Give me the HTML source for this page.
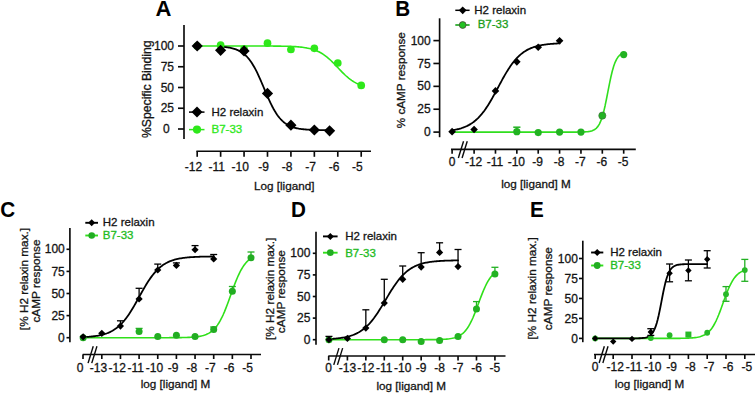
<!DOCTYPE html>
<html><head><meta charset="utf-8"><style>
html,body{margin:0;padding:0;background:#fff;width:756px;height:394px;overflow:hidden}
svg{display:block}
text{font-family:"Liberation Sans", sans-serif}
</style></head><body>
<svg width="756" height="394" viewBox="0 0 756 394">
<rect width="756" height="394" fill="#fff"/>
<text transform="translate(155.6 16.3) scale(0.98 1)" x="0" y="0" font-size="22.5" font-weight="bold" fill="#000">A</text>
<line x1="184" y1="25" x2="184" y2="139" stroke="#0a0a0a" stroke-width="1.65"/>
<line x1="178" y1="46" x2="184" y2="46" stroke="#0a0a0a" stroke-width="1.65"/>
<text x="174" y="50.1" font-size="12" text-anchor="end" fill="#141414" font-weight="normal" stroke="#141414" stroke-width="0.3">100</text>
<line x1="178" y1="66.75" x2="184" y2="66.75" stroke="#0a0a0a" stroke-width="1.65"/>
<text x="174" y="70.85" font-size="12" text-anchor="end" fill="#141414" font-weight="normal" stroke="#141414" stroke-width="0.3">75</text>
<line x1="178" y1="87.5" x2="184" y2="87.5" stroke="#0a0a0a" stroke-width="1.65"/>
<text x="174" y="91.6" font-size="12" text-anchor="end" fill="#141414" font-weight="normal" stroke="#141414" stroke-width="0.3">50</text>
<line x1="178" y1="108.25" x2="184" y2="108.25" stroke="#0a0a0a" stroke-width="1.65"/>
<text x="174" y="112.35" font-size="12" text-anchor="end" fill="#141414" font-weight="normal" stroke="#141414" stroke-width="0.3">25</text>
<line x1="178" y1="129" x2="184" y2="129" stroke="#0a0a0a" stroke-width="1.65"/>
<text x="166.3" y="133.1" font-size="12" text-anchor="middle" fill="#141414" font-weight="normal" stroke="#141414" stroke-width="0.3">0</text>
<text x="150.8" y="89.2" font-size="12.2" text-anchor="middle" fill="#141414" font-weight="normal" stroke="#141414" stroke-width="0.3" transform="rotate(-90 150.8 89.2)">%Specific Binding</text>
<line x1="196.4" y1="151.2" x2="371" y2="151.2" stroke="#0a0a0a" stroke-width="1.65"/>
<line x1="197.2" y1="151.2" x2="197.2" y2="156.8" stroke="#0a0a0a" stroke-width="1.65"/>
<text x="193.4" y="171" font-size="12" text-anchor="middle" fill="#141414" font-weight="normal" stroke="#141414" stroke-width="0.3">-12</text>
<line x1="220.63" y1="151.2" x2="220.63" y2="156.8" stroke="#0a0a0a" stroke-width="1.65"/>
<text x="216.83" y="171" font-size="12" text-anchor="middle" fill="#141414" font-weight="normal" stroke="#141414" stroke-width="0.3">-11</text>
<line x1="244.06" y1="151.2" x2="244.06" y2="156.8" stroke="#0a0a0a" stroke-width="1.65"/>
<text x="240.26" y="171" font-size="12" text-anchor="middle" fill="#141414" font-weight="normal" stroke="#141414" stroke-width="0.3">-10</text>
<line x1="267.49" y1="151.2" x2="267.49" y2="156.8" stroke="#0a0a0a" stroke-width="1.65"/>
<text x="263.69" y="171" font-size="12" text-anchor="middle" fill="#141414" font-weight="normal" stroke="#141414" stroke-width="0.3">-9</text>
<line x1="290.92" y1="151.2" x2="290.92" y2="156.8" stroke="#0a0a0a" stroke-width="1.65"/>
<text x="287.12" y="171" font-size="12" text-anchor="middle" fill="#141414" font-weight="normal" stroke="#141414" stroke-width="0.3">-8</text>
<line x1="314.35" y1="151.2" x2="314.35" y2="156.8" stroke="#0a0a0a" stroke-width="1.65"/>
<text x="310.55" y="171" font-size="12" text-anchor="middle" fill="#141414" font-weight="normal" stroke="#141414" stroke-width="0.3">-7</text>
<line x1="337.78" y1="151.2" x2="337.78" y2="156.8" stroke="#0a0a0a" stroke-width="1.65"/>
<text x="333.98" y="171" font-size="12" text-anchor="middle" fill="#141414" font-weight="normal" stroke="#141414" stroke-width="0.3">-6</text>
<line x1="361.21" y1="151.2" x2="361.21" y2="156.8" stroke="#0a0a0a" stroke-width="1.65"/>
<text x="357.41" y="171" font-size="12" text-anchor="middle" fill="#141414" font-weight="normal" stroke="#141414" stroke-width="0.3">-5</text>
<text x="284.2" y="189.7" font-size="11.7" text-anchor="middle" fill="#141414" font-weight="normal" stroke="#141414" stroke-width="0.3">Log [ligand]</text>
<path d="M197.2 46 L198.57 46 L199.93 46 L201.3 46 L202.67 46 L204.03 46 L205.4 46 L206.77 46 L208.13 46 L209.5 46 L210.87 46 L212.23 46 L213.6 46 L214.97 46 L216.33 46 L217.7 46 L219.07 46 L220.43 46 L221.8 46 L223.17 46 L224.53 46 L225.9 46 L227.27 46 L228.64 46 L230 46 L231.37 46 L232.74 46 L234.1 46 L235.47 46 L236.84 46 L238.2 46 L239.57 46 L240.94 46 L242.3 46 L243.67 46 L245.04 46 L246.4 46.01 L247.77 46.01 L249.14 46.01 L250.5 46.01 L251.87 46.01 L253.24 46.01 L254.6 46.01 L255.97 46.01 L257.34 46.02 L258.7 46.02 L260.07 46.02 L261.44 46.02 L262.8 46.03 L264.17 46.03 L265.54 46.04 L266.9 46.04 L268.27 46.05 L269.64 46.05 L271 46.06 L272.37 46.07 L273.74 46.08 L275.1 46.09 L276.47 46.1 L277.84 46.12 L279.2 46.14 L280.57 46.16 L281.94 46.18 L283.31 46.2 L284.67 46.23 L286.04 46.27 L287.41 46.3 L288.77 46.35 L290.14 46.4 L291.51 46.45 L292.87 46.52 L294.24 46.59 L295.61 46.67 L296.97 46.77 L298.34 46.88 L299.71 47 L301.07 47.14 L302.44 47.3 L303.81 47.48 L305.17 47.68 L306.54 47.91 L307.91 48.18 L309.27 48.47 L310.64 48.8 L312.01 49.18 L313.37 49.59 L314.74 50.06 L316.11 50.58 L317.47 51.16 L318.84 51.81 L320.21 52.52 L321.57 53.29 L322.94 54.15 L324.31 55.07 L325.67 56.07 L327.04 57.14 L328.41 58.29 L329.77 59.5 L331.14 60.78 L332.51 62.11 L333.88 63.49 L335.24 64.9 L336.61 66.34 L337.98 67.79 L339.34 69.23 L340.71 70.66 L342.08 72.07 L343.44 73.43 L344.81 74.75 L346.18 76.01 L347.54 77.2 L348.91 78.33 L350.28 79.38 L351.64 80.36 L353.01 81.27 L354.38 82.09 L355.74 82.85 L357.11 83.54 L358.48 84.17 L359.84 84.73 L361.21 85.24" fill="none" stroke="#2ee81a" stroke-width="1.6" stroke-linejoin="round" stroke-linecap="round"/>
<path d="M220.63 46.62 L221.54 46.69 L222.45 46.76 L223.35 46.85 L224.26 46.94 L225.17 47.04 L226.08 47.15 L226.99 47.27 L227.89 47.4 L228.8 47.55 L229.71 47.72 L230.62 47.9 L231.52 48.1 L232.43 48.32 L233.34 48.56 L234.25 48.83 L235.16 49.12 L236.06 49.45 L236.97 49.8 L237.88 50.19 L238.79 50.62 L239.7 51.09 L240.6 51.6 L241.51 52.17 L242.42 52.78 L243.33 53.45 L244.24 54.17 L245.14 54.96 L246.05 55.82 L246.96 56.74 L247.87 57.74 L248.78 58.82 L249.68 59.97 L250.59 61.21 L251.5 62.53 L252.41 63.94 L253.31 65.43 L254.22 67 L255.13 68.66 L256.04 70.4 L256.95 72.22 L257.85 74.11 L258.76 76.06 L259.67 78.07 L260.58 80.13 L261.49 82.24 L262.39 84.37 L263.3 86.52 L264.21 88.68 L265.12 90.84 L266.03 92.98 L266.93 95.1 L267.84 97.18 L268.75 99.22 L269.66 101.2 L270.57 103.12 L271.47 104.97 L272.38 106.75 L273.29 108.45 L274.2 110.06 L275.1 111.6 L276.01 113.04 L276.92 114.41 L277.83 115.68 L278.74 116.88 L279.64 117.99 L280.55 119.03 L281.46 119.99 L282.37 120.88 L283.28 121.7 L284.18 122.46 L285.09 123.15 L286 123.79 L286.91 124.38 L287.82 124.91 L288.72 125.4 L289.63 125.85 L290.54 126.26 L291.45 126.63 L292.36 126.97 L293.26 127.28 L294.17 127.56 L295.08 127.81 L295.99 128.04 L296.89 128.25 L297.8 128.44 L298.71 128.62 L299.62 128.77 L300.53 128.91 L301.43 129.04 L302.34 129.16 L303.25 129.26 L304.16 129.36 L305.07 129.44 L305.97 129.52 L306.88 129.59 L307.79 129.65 L308.7 129.71 L309.61 129.76 L310.51 129.81 L311.42 129.85 L312.33 129.89 L313.24 129.92 L314.14 129.96 L315.05 129.98 L315.96 130.01 L316.87 130.03 L317.78 130.05 L318.68 130.07 L319.59 130.09 L320.5 130.1 L321.41 130.12 L322.32 130.13 L323.22 130.14 L324.13 130.15 L325.04 130.16 L325.95 130.17 L326.86 130.18 L327.76 130.18 L328.67 130.19 L329.58 130.19" fill="none" stroke="#000" stroke-width="1.8" stroke-linejoin="round" stroke-linecap="round"/>
<circle cx="197.2" cy="46" r="3.85" fill="#2ee81a"/>
<circle cx="220.63" cy="45.17" r="3.85" fill="#2ee81a"/>
<circle cx="244.06" cy="48.99" r="3.85" fill="#2ee81a"/>
<circle cx="267.49" cy="43.18" r="3.85" fill="#2ee81a"/>
<circle cx="290.92" cy="49.49" r="3.85" fill="#2ee81a"/>
<circle cx="314.35" cy="48.32" r="3.85" fill="#2ee81a"/>
<circle cx="337.78" cy="63.02" r="3.85" fill="#2ee81a"/>
<circle cx="361.21" cy="85.43" r="3.85" fill="#2ee81a"/>
<path d="M197.2 40.4L202.8 46L197.2 51.6L191.6 46Z" fill="#000"/>
<path d="M220.63 44.72L226.23 50.32L220.63 55.92L215.03 50.32Z" fill="#000"/>
<path d="M244.06 45.3L249.66 50.9L244.06 56.5L238.46 50.9Z" fill="#000"/>
<path d="M267.49 87.79L273.09 93.39L267.49 98.99L261.89 93.39Z" fill="#000"/>
<path d="M290.92 119.58L296.52 125.18L290.92 130.78L285.32 125.18Z" fill="#000"/>
<path d="M314.35 124.4L319.95 130L314.35 135.6L308.75 130Z" fill="#000"/>
<path d="M329.58 125.23L335.18 130.83L329.58 136.43L323.98 130.83Z" fill="#000"/>
<line x1="189" y1="112.1" x2="204.5" y2="112.1" stroke="#000" stroke-width="1.5"/>
<path d="M197 106.6L202.5 112.1L197 117.6L191.5 112.1Z" fill="#000"/>
<text x="211.5" y="116.3" font-size="11.5" text-anchor="start" fill="#141414" font-weight="normal" stroke="#141414" stroke-width="0.3">H2 relaxin</text>
<line x1="189" y1="129.6" x2="204.5" y2="129.6" stroke="#2ee81a" stroke-width="1.5"/>
<circle cx="197" cy="129.6" r="4.1" fill="#2ee81a"/>
<text x="211.5" y="133.4" font-size="11.5" text-anchor="start" fill="#2ee81a" font-weight="normal" stroke="#2ee81a" stroke-width="0.3">B7-33</text>
<text transform="translate(395.3 16.4) scale(0.92 1)" x="0" y="0" font-size="22.5" font-weight="bold" fill="#000">B</text>
<line x1="439.6" y1="18.3" x2="439.6" y2="137.2" stroke="#0a0a0a" stroke-width="1.65"/>
<line x1="433.4" y1="40.6" x2="439.6" y2="40.6" stroke="#0a0a0a" stroke-width="1.65"/>
<text x="430.7" y="44.7" font-size="12" text-anchor="end" fill="#141414" font-weight="normal" stroke="#141414" stroke-width="0.3">100</text>
<line x1="433.4" y1="63.47" x2="439.6" y2="63.47" stroke="#0a0a0a" stroke-width="1.65"/>
<text x="430.7" y="67.57" font-size="12" text-anchor="end" fill="#141414" font-weight="normal" stroke="#141414" stroke-width="0.3">75</text>
<line x1="433.4" y1="86.35" x2="439.6" y2="86.35" stroke="#0a0a0a" stroke-width="1.65"/>
<text x="430.7" y="90.45" font-size="12" text-anchor="end" fill="#141414" font-weight="normal" stroke="#141414" stroke-width="0.3">50</text>
<line x1="433.4" y1="109.22" x2="439.6" y2="109.22" stroke="#0a0a0a" stroke-width="1.65"/>
<text x="430.7" y="113.32" font-size="12" text-anchor="end" fill="#141414" font-weight="normal" stroke="#141414" stroke-width="0.3">25</text>
<line x1="433.4" y1="132.1" x2="439.6" y2="132.1" stroke="#0a0a0a" stroke-width="1.65"/>
<text x="430.7" y="136.2" font-size="12" text-anchor="end" fill="#141414" font-weight="normal" stroke="#141414" stroke-width="0.3">0</text>
<text x="405.5" y="80.2" font-size="11.7" text-anchor="middle" fill="#141414" font-weight="normal" stroke="#141414" stroke-width="0.3" transform="rotate(-90 405.5 80.2)">% cAMP response</text>
<line x1="451" y1="149.3" x2="635.8" y2="149.3" stroke="#0a0a0a" stroke-width="1.65"/>
<line x1="452.1" y1="149.3" x2="452.1" y2="153.7" stroke="#0a0a0a" stroke-width="1.65"/>
<text x="452.1" y="165.8" font-size="12" text-anchor="middle" fill="#141414" font-weight="normal" stroke="#141414" stroke-width="0.3">0</text>
<line x1="474.1" y1="149.3" x2="474.1" y2="153.7" stroke="#0a0a0a" stroke-width="1.65"/>
<text x="473.6" y="165.8" font-size="12" text-anchor="middle" fill="#141414" font-weight="normal" stroke="#141414" stroke-width="0.3">-12</text>
<line x1="495.47" y1="149.3" x2="495.47" y2="153.7" stroke="#0a0a0a" stroke-width="1.65"/>
<text x="494.97" y="165.8" font-size="12" text-anchor="middle" fill="#141414" font-weight="normal" stroke="#141414" stroke-width="0.3">-11</text>
<line x1="516.84" y1="149.3" x2="516.84" y2="153.7" stroke="#0a0a0a" stroke-width="1.65"/>
<text x="516.34" y="165.8" font-size="12" text-anchor="middle" fill="#141414" font-weight="normal" stroke="#141414" stroke-width="0.3">-10</text>
<line x1="538.21" y1="149.3" x2="538.21" y2="153.7" stroke="#0a0a0a" stroke-width="1.65"/>
<text x="537.71" y="165.8" font-size="12" text-anchor="middle" fill="#141414" font-weight="normal" stroke="#141414" stroke-width="0.3">-9</text>
<line x1="559.58" y1="149.3" x2="559.58" y2="153.7" stroke="#0a0a0a" stroke-width="1.65"/>
<text x="559.08" y="165.8" font-size="12" text-anchor="middle" fill="#141414" font-weight="normal" stroke="#141414" stroke-width="0.3">-8</text>
<line x1="580.95" y1="149.3" x2="580.95" y2="153.7" stroke="#0a0a0a" stroke-width="1.65"/>
<text x="580.45" y="165.8" font-size="12" text-anchor="middle" fill="#141414" font-weight="normal" stroke="#141414" stroke-width="0.3">-7</text>
<line x1="602.32" y1="149.3" x2="602.32" y2="153.7" stroke="#0a0a0a" stroke-width="1.65"/>
<text x="601.82" y="165.8" font-size="12" text-anchor="middle" fill="#141414" font-weight="normal" stroke="#141414" stroke-width="0.3">-6</text>
<line x1="623.69" y1="149.3" x2="623.69" y2="153.7" stroke="#0a0a0a" stroke-width="1.65"/>
<text x="623.19" y="165.8" font-size="12" text-anchor="middle" fill="#141414" font-weight="normal" stroke="#141414" stroke-width="0.3">-5</text>
<line x1="458.35" y1="158" x2="463.55" y2="141.2" stroke="#0a0a0a" stroke-width="1.4"/>
<line x1="462.05" y1="158" x2="467.25" y2="141.2" stroke="#0a0a0a" stroke-width="1.4"/>
<text x="535.9" y="187.6" font-size="11.7" text-anchor="middle" fill="#141414" font-weight="normal" stroke="#141414" stroke-width="0.3">log [ligand] M</text>
<path d="M452.09 132.1 L453.52 132.1 L454.95 132.1 L456.38 132.1 L457.81 132.1 L459.24 132.1 L460.67 132.1 L462.1 132.1 L463.53 132.1 L464.96 132.1 L466.39 132.1 L467.82 132.1 L469.25 132.1 L470.68 132.1 L472.11 132.1 L473.54 132.1 L474.97 132.1 L476.4 132.1 L477.83 132.1 L479.26 132.1 L480.69 132.1 L482.12 132.1 L483.55 132.1 L484.98 132.1 L486.41 132.1 L487.84 132.1 L489.27 132.1 L490.7 132.1 L492.13 132.1 L493.56 132.1 L494.99 132.1 L496.42 132.1 L497.85 132.1 L499.28 132.1 L500.71 132.1 L502.14 132.1 L503.57 132.1 L505 132.1 L506.43 132.1 L507.86 132.1 L509.29 132.1 L510.72 132.1 L512.15 132.1 L513.58 132.1 L515.01 132.1 L516.44 132.1 L517.87 132.1 L519.3 132.1 L520.73 132.1 L522.16 132.1 L523.59 132.1 L525.02 132.1 L526.45 132.1 L527.88 132.1 L529.31 132.1 L530.74 132.1 L532.17 132.1 L533.6 132.1 L535.03 132.1 L536.46 132.1 L537.89 132.1 L539.32 132.1 L540.75 132.1 L542.18 132.1 L543.61 132.1 L545.04 132.1 L546.47 132.1 L547.9 132.1 L549.33 132.1 L550.76 132.1 L552.19 132.1 L553.62 132.1 L555.05 132.1 L556.48 132.1 L557.91 132.1 L559.34 132.1 L560.77 132.1 L562.2 132.1 L563.63 132.1 L565.06 132.1 L566.49 132.1 L567.92 132.1 L569.35 132.1 L570.78 132.09 L572.21 132.09 L573.64 132.09 L575.07 132.08 L576.5 132.08 L577.93 132.07 L579.36 132.05 L580.79 132.03 L582.22 131.99 L583.65 131.95 L585.08 131.88 L586.51 131.78 L587.94 131.64 L589.37 131.43 L590.8 131.14 L592.23 130.72 L593.66 130.11 L595.09 129.25 L596.52 128.04 L597.95 126.36 L599.38 124.05 L600.81 120.94 L602.24 116.89 L603.67 111.81 L605.1 105.7 L606.53 98.78 L607.96 91.4 L609.39 84.06 L610.82 77.22 L612.25 71.22 L613.68 66.26 L615.11 62.33 L616.54 59.32 L617.97 57.09 L619.4 55.47 L620.83 54.31 L622.26 53.49 L623.69 52.91" fill="none" stroke="#30de1e" stroke-width="1.6" stroke-linejoin="round" stroke-linecap="round"/>
<path d="M452.09 130.26 L452.98 130.12 L453.88 129.97 L454.78 129.81 L455.67 129.63 L456.57 129.45 L457.46 129.25 L458.36 129.03 L459.25 128.8 L460.15 128.55 L461.05 128.29 L461.94 128 L462.84 127.7 L463.73 127.37 L464.63 127.02 L465.53 126.65 L466.42 126.25 L467.32 125.83 L468.21 125.37 L469.11 124.89 L470 124.37 L470.9 123.83 L471.8 123.24 L472.69 122.62 L473.59 121.97 L474.48 121.27 L475.38 120.53 L476.27 119.75 L477.17 118.93 L478.07 118.06 L478.96 117.15 L479.86 116.19 L480.75 115.18 L481.65 114.13 L482.54 113.02 L483.44 111.87 L484.34 110.67 L485.23 109.42 L486.13 108.12 L487.02 106.78 L487.92 105.39 L488.82 103.96 L489.71 102.49 L490.61 100.98 L491.5 99.44 L492.4 97.87 L493.29 96.26 L494.19 94.64 L495.09 92.99 L495.98 91.33 L496.88 89.66 L497.77 87.98 L498.67 86.31 L499.56 84.63 L500.46 82.96 L501.36 81.31 L502.25 79.67 L503.15 78.05 L504.04 76.46 L504.94 74.9 L505.83 73.38 L506.73 71.88 L507.63 70.43 L508.52 69.02 L509.42 67.65 L510.31 66.32 L511.21 65.05 L512.1 63.82 L513 62.63 L513.9 61.5 L514.79 60.42 L515.69 59.38 L516.58 58.39 L517.48 57.45 L518.38 56.56 L519.27 55.71 L520.17 54.9 L521.06 54.14 L521.96 53.42 L522.85 52.74 L523.75 52.1 L524.65 51.5 L525.54 50.93 L526.44 50.4 L527.33 49.89 L528.23 49.42 L529.12 48.98 L530.02 48.57 L530.92 48.18 L531.81 47.82 L532.71 47.48 L533.6 47.16 L534.5 46.87 L535.39 46.59 L536.29 46.33 L537.19 46.09 L538.08 45.87 L538.98 45.66 L539.87 45.46 L540.77 45.28 L541.66 45.11 L542.56 44.95 L543.46 44.81 L544.35 44.67 L545.25 44.54 L546.14 44.43 L547.04 44.32 L547.94 44.21 L548.83 44.12 L549.73 44.03 L550.62 43.95 L551.52 43.87 L552.41 43.8 L553.31 43.74 L554.21 43.68 L555.1 43.62 L556 43.57 L556.89 43.52 L557.79 43.47 L558.68 43.43 L559.58 43.39" fill="none" stroke="#000" stroke-width="1.8" stroke-linejoin="round" stroke-linecap="round"/>
<circle cx="516.84" cy="131.64" r="3.6" fill="#22b222"/>
<circle cx="538.21" cy="132.56" r="3.6" fill="#22b222"/>
<circle cx="559.58" cy="132.1" r="3.6" fill="#22b222"/>
<circle cx="580.95" cy="132.1" r="3.6" fill="#22b222"/>
<circle cx="602.32" cy="115.63" r="3.6" fill="#22b222" stroke="#3d6a3a" stroke-width="0.6"/>
<circle cx="623.69" cy="54.6" r="3.6" fill="#22b222"/>
<line x1="516.84" y1="127.2" x2="516.84" y2="129.5" stroke="#22b222" stroke-width="1.4"/>
<line x1="513.24" y1="127.2" x2="520.44" y2="127.2" stroke="#22b222" stroke-width="1.5"/>
<path d="M452.09 127.84L455.89 131.64L452.09 135.44L448.29 131.64Z" fill="#000"/>
<path d="M474.1 125.74L477.9 129.54L474.1 133.34L470.3 129.54Z" fill="#000"/>
<path d="M495.47 87.12L499.27 90.92L495.47 94.72L491.67 90.92Z" fill="#000"/>
<path d="M516.84 58.03L520.64 61.83L516.84 65.63L513.04 61.83Z" fill="#000"/>
<path d="M538.21 43.48L542.01 47.28L538.21 51.08L534.41 47.28Z" fill="#000"/>
<path d="M559.58 36.89L563.38 40.69L559.58 44.49L555.78 40.69Z" fill="#000"/>
<line x1="455.3" y1="10.3" x2="469.6" y2="10.3" stroke="#000" stroke-width="1.5"/>
<path d="M462.7 6.4L466.6 10.3L462.7 14.2L458.8 10.3Z" fill="#000"/>
<text x="474.3" y="14.3" font-size="11.5" text-anchor="start" fill="#141414" font-weight="normal" stroke="#141414" stroke-width="0.3">H2 relaxin</text>
<line x1="455.3" y1="25" x2="469.6" y2="25" stroke="#22a822" stroke-width="1.7"/>
<circle cx="462.7" cy="25" r="3.4" fill="#22c222" stroke="#4a4a3a" stroke-width="0.8"/>
<text x="477.7" y="28.1" font-size="11.5" text-anchor="start" fill="#1a9e1a" font-weight="normal" stroke="#1a9e1a" stroke-width="0.3">B7-33</text>
<text transform="translate(0.3 216.7) scale(0.92 1)" x="0" y="0" font-size="22.5" font-weight="bold" fill="#000">C</text>
<line x1="69.9" y1="228" x2="69.9" y2="342.2" stroke="#0a0a0a" stroke-width="1.65"/>
<line x1="66.5" y1="249.3" x2="69.9" y2="249.3" stroke="#0a0a0a" stroke-width="1.65"/>
<text x="64.8" y="253.4" font-size="12" text-anchor="end" fill="#141414" font-weight="normal" stroke="#141414" stroke-width="0.3">100</text>
<line x1="66.5" y1="271.4" x2="69.9" y2="271.4" stroke="#0a0a0a" stroke-width="1.65"/>
<text x="64.8" y="275.5" font-size="12" text-anchor="end" fill="#141414" font-weight="normal" stroke="#141414" stroke-width="0.3">75</text>
<line x1="66.5" y1="293.5" x2="69.9" y2="293.5" stroke="#0a0a0a" stroke-width="1.65"/>
<text x="64.8" y="297.6" font-size="12" text-anchor="end" fill="#141414" font-weight="normal" stroke="#141414" stroke-width="0.3">50</text>
<line x1="66.5" y1="315.6" x2="69.9" y2="315.6" stroke="#0a0a0a" stroke-width="1.65"/>
<text x="64.8" y="319.7" font-size="12" text-anchor="end" fill="#141414" font-weight="normal" stroke="#141414" stroke-width="0.3">25</text>
<line x1="66.5" y1="337.7" x2="69.9" y2="337.7" stroke="#0a0a0a" stroke-width="1.65"/>
<text x="64.8" y="341.8" font-size="12" text-anchor="end" fill="#141414" font-weight="normal" stroke="#141414" stroke-width="0.3">0</text>
<text x="28" y="279" font-size="11.8" text-anchor="middle" fill="#141414" font-weight="normal" stroke="#141414" stroke-width="0.3" transform="rotate(-90 28 279)">[% H2 relaxin max.]</text>
<text x="40" y="281" font-size="11.8" text-anchor="middle" fill="#141414" font-weight="normal" stroke="#141414" stroke-width="0.3" transform="rotate(-90 40 281)">cAMP response</text>
<line x1="82.7" y1="354.5" x2="261" y2="354.5" stroke="#0a0a0a" stroke-width="1.65"/>
<line x1="83" y1="354.5" x2="83" y2="359" stroke="#0a0a0a" stroke-width="1.65"/>
<text x="80" y="371.8" font-size="12" text-anchor="middle" fill="#141414" font-weight="normal" stroke="#141414" stroke-width="0.3">0</text>
<line x1="101.8" y1="354.5" x2="101.8" y2="359" stroke="#0a0a0a" stroke-width="1.65"/>
<text x="98.5" y="372.1" font-size="12" text-anchor="middle" fill="#141414" font-weight="normal" stroke="#141414" stroke-width="0.3">-13</text>
<line x1="120.45" y1="354.5" x2="120.45" y2="359" stroke="#0a0a0a" stroke-width="1.65"/>
<text x="117.15" y="372.1" font-size="12" text-anchor="middle" fill="#141414" font-weight="normal" stroke="#141414" stroke-width="0.3">-12</text>
<line x1="139.1" y1="354.5" x2="139.1" y2="359" stroke="#0a0a0a" stroke-width="1.65"/>
<text x="135.8" y="372.1" font-size="12" text-anchor="middle" fill="#141414" font-weight="normal" stroke="#141414" stroke-width="0.3">-11</text>
<line x1="157.75" y1="354.5" x2="157.75" y2="359" stroke="#0a0a0a" stroke-width="1.65"/>
<text x="154.45" y="372.1" font-size="12" text-anchor="middle" fill="#141414" font-weight="normal" stroke="#141414" stroke-width="0.3">-10</text>
<line x1="176.4" y1="354.5" x2="176.4" y2="359" stroke="#0a0a0a" stroke-width="1.65"/>
<text x="173.1" y="372.1" font-size="12" text-anchor="middle" fill="#141414" font-weight="normal" stroke="#141414" stroke-width="0.3">-9</text>
<line x1="195.05" y1="354.5" x2="195.05" y2="359" stroke="#0a0a0a" stroke-width="1.65"/>
<text x="191.75" y="372.1" font-size="12" text-anchor="middle" fill="#141414" font-weight="normal" stroke="#141414" stroke-width="0.3">-8</text>
<line x1="213.7" y1="354.5" x2="213.7" y2="359" stroke="#0a0a0a" stroke-width="1.65"/>
<text x="210.4" y="372.1" font-size="12" text-anchor="middle" fill="#141414" font-weight="normal" stroke="#141414" stroke-width="0.3">-7</text>
<line x1="232.35" y1="354.5" x2="232.35" y2="359" stroke="#0a0a0a" stroke-width="1.65"/>
<text x="229.05" y="372.1" font-size="12" text-anchor="middle" fill="#141414" font-weight="normal" stroke="#141414" stroke-width="0.3">-6</text>
<line x1="251" y1="354.5" x2="251" y2="359" stroke="#0a0a0a" stroke-width="1.65"/>
<text x="247.7" y="372.1" font-size="12" text-anchor="middle" fill="#141414" font-weight="normal" stroke="#141414" stroke-width="0.3">-5</text>
<line x1="88.05" y1="363.1" x2="93.25" y2="346.3" stroke="#0a0a0a" stroke-width="1.4"/>
<line x1="91.75" y1="363.1" x2="96.95" y2="346.3" stroke="#0a0a0a" stroke-width="1.4"/>
<text x="175.5" y="388.1" font-size="11.7" text-anchor="middle" fill="#141414" font-weight="normal" stroke="#141414" stroke-width="0.3">log [ligand] M</text>
<path d="M83.15 337.7 L84.55 337.7 L85.95 337.7 L87.35 337.7 L88.75 337.7 L90.14 337.7 L91.54 337.7 L92.94 337.7 L94.34 337.7 L95.74 337.7 L97.14 337.7 L98.54 337.7 L99.94 337.7 L101.33 337.7 L102.73 337.7 L104.13 337.7 L105.53 337.7 L106.93 337.7 L108.33 337.7 L109.73 337.7 L111.12 337.7 L112.52 337.7 L113.92 337.7 L115.32 337.7 L116.72 337.7 L118.12 337.7 L119.52 337.7 L120.92 337.7 L122.31 337.7 L123.71 337.7 L125.11 337.7 L126.51 337.7 L127.91 337.7 L129.31 337.7 L130.71 337.7 L132.11 337.7 L133.5 337.7 L134.9 337.7 L136.3 337.7 L137.7 337.7 L139.1 337.7 L140.5 337.7 L141.9 337.7 L143.3 337.7 L144.69 337.7 L146.09 337.7 L147.49 337.7 L148.89 337.7 L150.29 337.7 L151.69 337.7 L153.09 337.7 L154.49 337.7 L155.88 337.7 L157.28 337.69 L158.68 337.69 L160.08 337.69 L161.48 337.69 L162.88 337.69 L164.28 337.69 L165.68 337.68 L167.07 337.68 L168.47 337.68 L169.87 337.67 L171.27 337.67 L172.67 337.66 L174.07 337.65 L175.47 337.64 L176.87 337.63 L178.26 337.62 L179.66 337.6 L181.06 337.58 L182.46 337.55 L183.86 337.53 L185.26 337.49 L186.66 337.45 L188.06 337.4 L189.45 337.34 L190.85 337.26 L192.25 337.17 L193.65 337.07 L195.05 336.94 L196.45 336.79 L197.85 336.6 L199.25 336.38 L200.64 336.12 L202.04 335.81 L203.44 335.44 L204.84 334.99 L206.24 334.46 L207.64 333.84 L209.04 333.09 L210.44 332.22 L211.83 331.19 L213.23 329.99 L214.63 328.6 L216.03 326.98 L217.43 325.13 L218.83 323.02 L220.23 320.64 L221.63 317.98 L223.02 315.05 L224.42 311.85 L225.82 308.41 L227.22 304.77 L228.62 300.98 L230.02 297.1 L231.42 293.18 L232.82 289.3 L234.21 285.51 L235.61 281.89 L237.01 278.47 L238.41 275.29 L239.81 272.37 L241.21 269.73 L242.61 267.37 L244.01 265.28 L245.4 263.44 L246.8 261.84 L248.2 260.46 L249.6 259.27 L251 258.25" fill="none" stroke="#30e01a" stroke-width="1.6" stroke-linejoin="round" stroke-linecap="round"/>
<path d="M83.15 337.14 L84.24 337.08 L85.33 337.02 L86.41 336.95 L87.5 336.88 L88.59 336.8 L89.68 336.71 L90.77 336.61 L91.85 336.5 L92.94 336.38 L94.03 336.25 L95.12 336.1 L96.2 335.94 L97.29 335.77 L98.38 335.58 L99.47 335.37 L100.56 335.14 L101.64 334.89 L102.73 334.61 L103.82 334.31 L104.91 333.99 L106 333.63 L107.08 333.24 L108.17 332.81 L109.26 332.35 L110.35 331.84 L111.44 331.29 L112.52 330.7 L113.61 330.06 L114.7 329.36 L115.79 328.61 L116.88 327.8 L117.96 326.92 L119.05 325.99 L120.14 324.98 L121.23 323.91 L122.31 322.77 L123.4 321.55 L124.49 320.26 L125.58 318.9 L126.67 317.47 L127.75 315.96 L128.84 314.39 L129.93 312.75 L131.02 311.05 L132.11 309.28 L133.19 307.47 L134.28 305.61 L135.37 303.72 L136.46 301.79 L137.55 299.84 L138.63 297.88 L139.72 295.91 L140.81 293.95 L141.9 292.01 L142.99 290.08 L144.07 288.19 L145.16 286.34 L146.25 284.53 L147.34 282.78 L148.43 281.09 L149.51 279.45 L150.6 277.89 L151.69 276.39 L152.78 274.97 L153.86 273.62 L154.95 272.34 L156.04 271.14 L157.13 270 L158.22 268.94 L159.3 267.95 L160.39 267.02 L161.48 266.16 L162.57 265.35 L163.66 264.61 L164.74 263.92 L165.83 263.28 L166.92 262.7 L168.01 262.16 L169.1 261.66 L170.18 261.2 L171.27 260.78 L172.36 260.39 L173.45 260.04 L174.53 259.71 L175.62 259.42 L176.71 259.15 L177.8 258.9 L178.89 258.67 L179.97 258.47 L181.06 258.28 L182.15 258.11 L183.24 257.95 L184.33 257.81 L185.41 257.68 L186.5 257.56 L187.59 257.45 L188.68 257.35 L189.77 257.26 L190.85 257.18 L191.94 257.11 L193.03 257.04 L194.12 256.98 L195.21 256.92 L196.29 256.87 L197.38 256.83 L198.47 256.79 L199.56 256.75 L200.64 256.71 L201.73 256.68 L202.82 256.65 L203.91 256.63 L205 256.6 L206.08 256.58 L207.17 256.56 L208.26 256.55 L209.35 256.53 L210.44 256.52 L211.52 256.5 L212.61 256.49 L213.7 256.48" fill="none" stroke="#000" stroke-width="1.8" stroke-linejoin="round" stroke-linecap="round"/>
<line x1="139.1" y1="331.42" x2="139.1" y2="328.4" stroke="#22b222" stroke-width="1.3"/>
<line x1="135.6" y1="328.4" x2="142.6" y2="328.4" stroke="#22b222" stroke-width="1.3"/>
<line x1="213.7" y1="329.39" x2="213.7" y2="327" stroke="#22b222" stroke-width="1.3"/>
<line x1="210.2" y1="327" x2="217.2" y2="327" stroke="#22b222" stroke-width="1.3"/>
<line x1="232.35" y1="291.29" x2="232.35" y2="286.5" stroke="#22b222" stroke-width="1.3"/>
<line x1="228.85" y1="286.5" x2="235.85" y2="286.5" stroke="#22b222" stroke-width="1.3"/>
<line x1="251" y1="257.79" x2="251" y2="252" stroke="#22b222" stroke-width="1.3"/>
<line x1="247.5" y1="252" x2="254.5" y2="252" stroke="#22b222" stroke-width="1.3"/>
<circle cx="83.15" cy="337.7" r="3.5" fill="#22ad22"/>
<circle cx="139.1" cy="331.42" r="3.5" fill="#22ad22"/>
<circle cx="157.75" cy="336.46" r="3.5" fill="#22ad22"/>
<circle cx="176.4" cy="335.31" r="3.5" fill="#22ad22"/>
<circle cx="195.05" cy="336.46" r="3.5" fill="#22ad22"/>
<circle cx="213.7" cy="329.39" r="3.5" fill="#22ad22"/>
<circle cx="232.35" cy="291.29" r="3.5" fill="#22ad22"/>
<circle cx="251" cy="257.79" r="3.5" fill="#22ad22"/>
<line x1="120.45" y1="326.03" x2="120.45" y2="320.8" stroke="#000" stroke-width="1.3"/>
<line x1="116.95" y1="320.8" x2="123.95" y2="320.8" stroke="#000" stroke-width="1.3"/>
<line x1="139.1" y1="298.89" x2="139.1" y2="288.3" stroke="#000" stroke-width="1.3"/>
<line x1="135.6" y1="288.3" x2="142.6" y2="288.3" stroke="#000" stroke-width="1.3"/>
<line x1="157.75" y1="269.99" x2="157.75" y2="264.1" stroke="#000" stroke-width="1.3"/>
<line x1="154.25" y1="264.1" x2="161.25" y2="264.1" stroke="#000" stroke-width="1.3"/>
<line x1="176.4" y1="265.39" x2="176.4" y2="262.9" stroke="#000" stroke-width="1.3"/>
<line x1="172.9" y1="262.9" x2="179.9" y2="262.9" stroke="#000" stroke-width="1.3"/>
<line x1="195.05" y1="249.74" x2="195.05" y2="245.6" stroke="#000" stroke-width="1.3"/>
<line x1="191.55" y1="245.6" x2="198.55" y2="245.6" stroke="#000" stroke-width="1.3"/>
<line x1="213.7" y1="259.02" x2="213.7" y2="254.5" stroke="#000" stroke-width="1.3"/>
<line x1="210.2" y1="254.5" x2="217.2" y2="254.5" stroke="#000" stroke-width="1.3"/>
<path d="M83.15 333.22L86.75 336.82L83.15 340.42L79.55 336.82Z" fill="#000"/>
<path d="M101.8 329.68L105.4 333.28L101.8 336.88L98.2 333.28Z" fill="#000"/>
<path d="M120.45 322.43L124.05 326.03L120.45 329.63L116.85 326.03Z" fill="#000"/>
<path d="M139.1 295.29L142.7 298.89L139.1 302.49L135.5 298.89Z" fill="#000"/>
<path d="M157.75 266.39L161.35 269.99L157.75 273.59L154.15 269.99Z" fill="#000"/>
<path d="M176.4 261.79L180 265.39L176.4 268.99L172.8 265.39Z" fill="#000"/>
<path d="M195.05 246.14L198.65 249.74L195.05 253.34L191.45 249.74Z" fill="#000"/>
<path d="M213.7 255.42L217.3 259.02L213.7 262.62L210.1 259.02Z" fill="#000"/>
<line x1="85.3" y1="222.8" x2="98" y2="222.8" stroke="#000" stroke-width="1.9"/>
<path d="M91.7 219.3L95.2 222.8L91.7 226.3L88.2 222.8Z" fill="#000"/>
<text x="102.8" y="225.9" font-size="11.5" text-anchor="start" fill="#141414" font-weight="normal" stroke="#141414" stroke-width="0.3">H2 relaxin</text>
<line x1="85.3" y1="235.5" x2="98" y2="235.5" stroke="#30e01a" stroke-width="1.9"/>
<circle cx="91.7" cy="235.5" r="3.3" fill="#22ad22"/>
<text x="102.8" y="239.3" font-size="11.5" text-anchor="start" fill="#22bb22" font-weight="normal" stroke="#22bb22" stroke-width="0.3">B7-33</text>
<text transform="translate(291.1 216.7) scale(0.92 1)" x="0" y="0" font-size="22.5" font-weight="bold" fill="#000">D</text>
<line x1="316" y1="231.8" x2="316" y2="344.8" stroke="#0a0a0a" stroke-width="1.65"/>
<line x1="312.8" y1="253.3" x2="316" y2="253.3" stroke="#0a0a0a" stroke-width="1.65"/>
<text x="310.4" y="257.4" font-size="12" text-anchor="end" fill="#141414" font-weight="normal" stroke="#141414" stroke-width="0.3">100</text>
<line x1="312.8" y1="274.9" x2="316" y2="274.9" stroke="#0a0a0a" stroke-width="1.65"/>
<text x="310.4" y="279" font-size="12" text-anchor="end" fill="#141414" font-weight="normal" stroke="#141414" stroke-width="0.3">75</text>
<line x1="312.8" y1="296.5" x2="316" y2="296.5" stroke="#0a0a0a" stroke-width="1.65"/>
<text x="310.4" y="300.6" font-size="12" text-anchor="end" fill="#141414" font-weight="normal" stroke="#141414" stroke-width="0.3">50</text>
<line x1="312.8" y1="318.1" x2="316" y2="318.1" stroke="#0a0a0a" stroke-width="1.65"/>
<text x="310.4" y="322.2" font-size="12" text-anchor="end" fill="#141414" font-weight="normal" stroke="#141414" stroke-width="0.3">25</text>
<line x1="312.8" y1="339.7" x2="316" y2="339.7" stroke="#0a0a0a" stroke-width="1.65"/>
<text x="310.4" y="343.8" font-size="12" text-anchor="end" fill="#141414" font-weight="normal" stroke="#141414" stroke-width="0.3">0</text>
<text x="273.7" y="288.8" font-size="11.8" text-anchor="middle" fill="#141414" font-weight="normal" stroke="#141414" stroke-width="0.3" transform="rotate(-90 273.7 288.8)">[% H2 relaxin max.]</text>
<text x="285.3" y="291.6" font-size="11.8" text-anchor="middle" fill="#141414" font-weight="normal" stroke="#141414" stroke-width="0.3" transform="rotate(-90 285.3 291.6)">cAMP response</text>
<line x1="328.3" y1="356" x2="505.5" y2="356" stroke="#0a0a0a" stroke-width="1.65"/>
<line x1="328.7" y1="356" x2="328.7" y2="360.5" stroke="#0a0a0a" stroke-width="1.65"/>
<text x="328.7" y="372.3" font-size="12" text-anchor="middle" fill="#141414" font-weight="normal" stroke="#141414" stroke-width="0.3">0</text>
<line x1="347.4" y1="356" x2="347.4" y2="360.5" stroke="#0a0a0a" stroke-width="1.65"/>
<text x="347.4" y="372.3" font-size="12" text-anchor="middle" fill="#141414" font-weight="normal" stroke="#141414" stroke-width="0.3">-13</text>
<line x1="365.84" y1="356" x2="365.84" y2="360.5" stroke="#0a0a0a" stroke-width="1.65"/>
<text x="365.84" y="372.3" font-size="12" text-anchor="middle" fill="#141414" font-weight="normal" stroke="#141414" stroke-width="0.3">-12</text>
<line x1="384.28" y1="356" x2="384.28" y2="360.5" stroke="#0a0a0a" stroke-width="1.65"/>
<text x="384.28" y="372.3" font-size="12" text-anchor="middle" fill="#141414" font-weight="normal" stroke="#141414" stroke-width="0.3">-11</text>
<line x1="402.72" y1="356" x2="402.72" y2="360.5" stroke="#0a0a0a" stroke-width="1.65"/>
<text x="402.72" y="372.3" font-size="12" text-anchor="middle" fill="#141414" font-weight="normal" stroke="#141414" stroke-width="0.3">-10</text>
<line x1="421.16" y1="356" x2="421.16" y2="360.5" stroke="#0a0a0a" stroke-width="1.65"/>
<text x="421.16" y="372.3" font-size="12" text-anchor="middle" fill="#141414" font-weight="normal" stroke="#141414" stroke-width="0.3">-9</text>
<line x1="439.6" y1="356" x2="439.6" y2="360.5" stroke="#0a0a0a" stroke-width="1.65"/>
<text x="439.6" y="372.3" font-size="12" text-anchor="middle" fill="#141414" font-weight="normal" stroke="#141414" stroke-width="0.3">-8</text>
<line x1="458.04" y1="356" x2="458.04" y2="360.5" stroke="#0a0a0a" stroke-width="1.65"/>
<text x="458.04" y="372.3" font-size="12" text-anchor="middle" fill="#141414" font-weight="normal" stroke="#141414" stroke-width="0.3">-7</text>
<line x1="476.48" y1="356" x2="476.48" y2="360.5" stroke="#0a0a0a" stroke-width="1.65"/>
<text x="476.48" y="372.3" font-size="12" text-anchor="middle" fill="#141414" font-weight="normal" stroke="#141414" stroke-width="0.3">-6</text>
<line x1="494.92" y1="356" x2="494.92" y2="360.5" stroke="#0a0a0a" stroke-width="1.65"/>
<text x="494.92" y="372.3" font-size="12" text-anchor="middle" fill="#141414" font-weight="normal" stroke="#141414" stroke-width="0.3">-5</text>
<line x1="333.75" y1="364.9" x2="338.95" y2="348.1" stroke="#0a0a0a" stroke-width="1.4"/>
<line x1="337.45" y1="364.9" x2="342.65" y2="348.1" stroke="#0a0a0a" stroke-width="1.4"/>
<text x="411.2" y="389.7" font-size="11.7" text-anchor="middle" fill="#141414" font-weight="normal" stroke="#141414" stroke-width="0.3">log [ligand] M</text>
<path d="M329.33 339.7 L330.71 339.7 L332.09 339.7 L333.47 339.7 L334.85 339.7 L336.23 339.7 L337.61 339.7 L338.99 339.7 L340.37 339.7 L341.75 339.7 L343.13 339.7 L344.51 339.7 L345.89 339.7 L347.27 339.7 L348.65 339.7 L350.03 339.7 L351.41 339.7 L352.79 339.7 L354.17 339.7 L355.55 339.7 L356.93 339.7 L358.31 339.7 L359.69 339.7 L361.07 339.7 L362.45 339.7 L363.83 339.7 L365.21 339.7 L366.59 339.7 L367.97 339.7 L369.35 339.7 L370.73 339.7 L372.11 339.7 L373.49 339.7 L374.87 339.7 L376.25 339.7 L377.63 339.7 L379.01 339.7 L380.39 339.7 L381.77 339.7 L383.15 339.7 L384.53 339.7 L385.91 339.7 L387.29 339.7 L388.67 339.7 L390.05 339.7 L391.43 339.7 L392.81 339.7 L394.19 339.7 L395.57 339.7 L396.95 339.7 L398.33 339.7 L399.71 339.7 L401.08 339.7 L402.46 339.7 L403.84 339.7 L405.22 339.7 L406.6 339.7 L407.98 339.7 L409.36 339.7 L410.74 339.7 L412.12 339.7 L413.5 339.7 L414.88 339.69 L416.26 339.69 L417.64 339.69 L419.02 339.69 L420.4 339.69 L421.78 339.69 L423.16 339.68 L424.54 339.68 L425.92 339.67 L427.3 339.67 L428.68 339.66 L430.06 339.65 L431.44 339.64 L432.82 339.62 L434.2 339.61 L435.58 339.58 L436.96 339.56 L438.34 339.52 L439.72 339.48 L441.1 339.43 L442.48 339.37 L443.86 339.3 L445.24 339.21 L446.62 339.09 L448 338.96 L449.38 338.79 L450.76 338.58 L452.14 338.33 L453.52 338.02 L454.9 337.65 L456.28 337.19 L457.66 336.64 L459.04 335.98 L460.42 335.17 L461.8 334.21 L463.18 333.07 L464.56 331.71 L465.94 330.12 L467.32 328.26 L468.7 326.13 L470.08 323.7 L471.46 320.97 L472.84 317.96 L474.22 314.68 L475.6 311.19 L476.98 307.55 L478.36 303.81 L479.74 300.07 L481.12 296.4 L482.5 292.87 L483.88 289.55 L485.26 286.48 L486.64 283.69 L488.02 281.19 L489.4 278.99 L490.78 277.08 L492.16 275.43 L493.54 274.03 L494.92 272.84" fill="none" stroke="#30e01a" stroke-width="1.6" stroke-linejoin="round" stroke-linecap="round"/>
<path d="M329.33 339.04 L330.4 338.97 L331.47 338.9 L332.55 338.83 L333.62 338.75 L334.69 338.66 L335.76 338.56 L336.84 338.45 L337.91 338.33 L338.98 338.21 L340.05 338.07 L341.13 337.92 L342.2 337.75 L343.27 337.57 L344.35 337.37 L345.42 337.16 L346.49 336.92 L347.56 336.67 L348.64 336.39 L349.71 336.09 L350.78 335.76 L351.85 335.41 L352.93 335.02 L354 334.6 L355.07 334.15 L356.14 333.66 L357.22 333.13 L358.29 332.56 L359.36 331.95 L360.43 331.29 L361.51 330.58 L362.58 329.82 L363.65 329 L364.72 328.13 L365.8 327.2 L366.87 326.21 L367.94 325.16 L369.01 324.05 L370.09 322.87 L371.16 321.63 L372.23 320.33 L373.31 318.96 L374.38 317.54 L375.45 316.05 L376.52 314.51 L377.6 312.92 L378.67 311.28 L379.74 309.6 L380.81 307.88 L381.89 306.12 L382.96 304.35 L384.03 302.55 L385.1 300.74 L386.18 298.93 L387.25 297.13 L388.32 295.34 L389.39 293.56 L390.47 291.81 L391.54 290.1 L392.61 288.42 L393.68 286.78 L394.76 285.2 L395.83 283.66 L396.9 282.19 L397.97 280.77 L399.05 279.41 L400.12 278.12 L401.19 276.88 L402.27 275.72 L403.34 274.61 L404.41 273.57 L405.48 272.59 L406.56 271.66 L407.63 270.8 L408.7 269.99 L409.77 269.24 L410.85 268.53 L411.92 267.88 L412.99 267.27 L414.06 266.71 L415.14 266.18 L416.21 265.7 L417.28 265.25 L418.35 264.84 L419.43 264.46 L420.5 264.11 L421.57 263.78 L422.64 263.48 L423.72 263.21 L424.79 262.96 L425.86 262.73 L426.93 262.51 L428.01 262.32 L429.08 262.14 L430.15 261.98 L431.23 261.83 L432.3 261.69 L433.37 261.56 L434.44 261.45 L435.52 261.34 L436.59 261.24 L437.66 261.15 L438.73 261.07 L439.81 261 L440.88 260.93 L441.95 260.87 L443.02 260.81 L444.1 260.76 L445.17 260.71 L446.24 260.67 L447.31 260.63 L448.39 260.59 L449.46 260.56 L450.53 260.53 L451.6 260.5 L452.68 260.48 L453.75 260.45 L454.82 260.43 L455.89 260.41 L456.97 260.4 L458.04 260.38" fill="none" stroke="#000" stroke-width="1.8" stroke-linejoin="round" stroke-linecap="round"/>
<line x1="476.48" y1="308.94" x2="476.48" y2="301.6" stroke="#22b222" stroke-width="1.3"/>
<line x1="472.98" y1="301.6" x2="479.98" y2="301.6" stroke="#22b222" stroke-width="1.3"/>
<line x1="494.92" y1="274.12" x2="494.92" y2="267.3" stroke="#22b222" stroke-width="1.3"/>
<line x1="491.42" y1="267.3" x2="498.42" y2="267.3" stroke="#22b222" stroke-width="1.3"/>
<circle cx="328.96" cy="339.7" r="3.5" fill="#22b222"/>
<circle cx="384.28" cy="339.87" r="3.5" fill="#22b222"/>
<circle cx="402.72" cy="339.87" r="3.5" fill="#22b222"/>
<circle cx="421.16" cy="341.43" r="3.5" fill="#22b222"/>
<circle cx="439.6" cy="340.56" r="3.5" fill="#22b222"/>
<circle cx="458.04" cy="336.42" r="3.5" fill="#22b222"/>
<circle cx="476.48" cy="308.94" r="3.5" fill="#22b222"/>
<circle cx="494.92" cy="274.12" r="3.5" fill="#22b222"/>
<line x1="328.96" y1="339.7" x2="328.96" y2="336.4" stroke="#000" stroke-width="1.3"/>
<line x1="325.46" y1="336.4" x2="332.46" y2="336.4" stroke="#000" stroke-width="1.3"/>
<line x1="365.84" y1="328.04" x2="365.84" y2="309.8" stroke="#000" stroke-width="1.3"/>
<line x1="362.34" y1="309.8" x2="369.34" y2="309.8" stroke="#000" stroke-width="1.3"/>
<line x1="384.28" y1="303.07" x2="384.28" y2="279.3" stroke="#000" stroke-width="1.3"/>
<line x1="380.78" y1="279.3" x2="387.78" y2="279.3" stroke="#000" stroke-width="1.3"/>
<line x1="402.72" y1="279.31" x2="402.72" y2="266" stroke="#000" stroke-width="1.3"/>
<line x1="399.22" y1="266" x2="406.22" y2="266" stroke="#000" stroke-width="1.3"/>
<line x1="421.16" y1="267.04" x2="421.16" y2="252.7" stroke="#000" stroke-width="1.3"/>
<line x1="417.66" y1="252.7" x2="424.66" y2="252.7" stroke="#000" stroke-width="1.3"/>
<line x1="439.6" y1="252.44" x2="439.6" y2="242.8" stroke="#000" stroke-width="1.3"/>
<line x1="436.1" y1="242.8" x2="443.1" y2="242.8" stroke="#000" stroke-width="1.3"/>
<line x1="458.04" y1="266.61" x2="458.04" y2="249.5" stroke="#000" stroke-width="1.3"/>
<line x1="454.54" y1="249.5" x2="461.54" y2="249.5" stroke="#000" stroke-width="1.3"/>
<path d="M328.96 336.1L332.56 339.7L328.96 343.3L325.36 339.7Z" fill="#000"/>
<path d="M347.4 334.8L351 338.4L347.4 342L343.8 338.4Z" fill="#000"/>
<path d="M365.84 324.44L369.44 328.04L365.84 331.64L362.24 328.04Z" fill="#000"/>
<path d="M384.28 299.47L387.88 303.07L384.28 306.67L380.68 303.07Z" fill="#000"/>
<path d="M402.72 275.71L406.32 279.31L402.72 282.91L399.12 279.31Z" fill="#000"/>
<path d="M421.16 263.44L424.76 267.04L421.16 270.64L417.56 267.04Z" fill="#000"/>
<path d="M439.6 248.84L443.2 252.44L439.6 256.04L436 252.44Z" fill="#000"/>
<path d="M458.04 263.01L461.64 266.61L458.04 270.21L454.44 266.61Z" fill="#000"/>
<line x1="323" y1="236.4" x2="337.6" y2="236.4" stroke="#000" stroke-width="1.9"/>
<path d="M330.3 232.9L333.8 236.4L330.3 239.9L326.8 236.4Z" fill="#000"/>
<text x="345.2" y="239.8" font-size="11.5" text-anchor="start" fill="#141414" font-weight="normal" stroke="#141414" stroke-width="0.3">H2 relaxin</text>
<line x1="323" y1="252.7" x2="337.6" y2="252.7" stroke="#30e01a" stroke-width="1.9"/>
<circle cx="330.3" cy="252.7" r="3.4" fill="#22ad22"/>
<text x="345.2" y="256.6" font-size="11.5" text-anchor="start" fill="#22bb22" font-weight="normal" stroke="#22bb22" stroke-width="0.3">B7-33</text>
<text transform="translate(530 216.7) scale(0.92 1)" x="0" y="0" font-size="22.5" font-weight="bold" fill="#000">E</text>
<line x1="582.8" y1="240.7" x2="582.8" y2="342.2" stroke="#0a0a0a" stroke-width="1.65"/>
<line x1="579" y1="258.5" x2="582.8" y2="258.5" stroke="#0a0a0a" stroke-width="1.65"/>
<text x="577.9" y="262.6" font-size="12" text-anchor="end" fill="#141414" font-weight="normal" stroke="#141414" stroke-width="0.3">100</text>
<line x1="579" y1="278.47" x2="582.8" y2="278.47" stroke="#0a0a0a" stroke-width="1.65"/>
<text x="577.9" y="282.57" font-size="12" text-anchor="end" fill="#141414" font-weight="normal" stroke="#141414" stroke-width="0.3">75</text>
<line x1="579" y1="298.45" x2="582.8" y2="298.45" stroke="#0a0a0a" stroke-width="1.65"/>
<text x="577.9" y="302.55" font-size="12" text-anchor="end" fill="#141414" font-weight="normal" stroke="#141414" stroke-width="0.3">50</text>
<line x1="579" y1="318.42" x2="582.8" y2="318.42" stroke="#0a0a0a" stroke-width="1.65"/>
<text x="577.9" y="322.52" font-size="12" text-anchor="end" fill="#141414" font-weight="normal" stroke="#141414" stroke-width="0.3">25</text>
<line x1="579" y1="338.4" x2="582.8" y2="338.4" stroke="#0a0a0a" stroke-width="1.65"/>
<text x="577.9" y="342.5" font-size="12" text-anchor="end" fill="#141414" font-weight="normal" stroke="#141414" stroke-width="0.3">0</text>
<text x="536.5" y="288.3" font-size="11.8" text-anchor="middle" fill="#141414" font-weight="normal" stroke="#141414" stroke-width="0.3" transform="rotate(-90 536.5 288.3)">[% H2 relaxin max.]</text>
<text x="551.6" y="288.6" font-size="11.8" text-anchor="middle" fill="#141414" font-weight="normal" stroke="#141414" stroke-width="0.3" transform="rotate(-90 551.6 288.6)">cAMP response</text>
<line x1="594" y1="354.5" x2="755" y2="354.5" stroke="#0a0a0a" stroke-width="1.65"/>
<line x1="595.2" y1="354.5" x2="595.2" y2="359" stroke="#0a0a0a" stroke-width="1.65"/>
<text x="595.2" y="370.5" font-size="12" text-anchor="middle" fill="#141414" font-weight="normal" stroke="#141414" stroke-width="0.3">0</text>
<line x1="613.2" y1="354.5" x2="613.2" y2="359" stroke="#0a0a0a" stroke-width="1.65"/>
<text x="615.2" y="370.5" font-size="12" text-anchor="middle" fill="#141414" font-weight="normal" stroke="#141414" stroke-width="0.3">-12</text>
<line x1="632" y1="354.5" x2="632" y2="359" stroke="#0a0a0a" stroke-width="1.65"/>
<text x="634" y="370.5" font-size="12" text-anchor="middle" fill="#141414" font-weight="normal" stroke="#141414" stroke-width="0.3">-11</text>
<line x1="650.8" y1="354.5" x2="650.8" y2="359" stroke="#0a0a0a" stroke-width="1.65"/>
<text x="652.8" y="370.5" font-size="12" text-anchor="middle" fill="#141414" font-weight="normal" stroke="#141414" stroke-width="0.3">-10</text>
<line x1="669.6" y1="354.5" x2="669.6" y2="359" stroke="#0a0a0a" stroke-width="1.65"/>
<text x="671.6" y="370.5" font-size="12" text-anchor="middle" fill="#141414" font-weight="normal" stroke="#141414" stroke-width="0.3">-9</text>
<line x1="688.4" y1="354.5" x2="688.4" y2="359" stroke="#0a0a0a" stroke-width="1.65"/>
<text x="690.4" y="370.5" font-size="12" text-anchor="middle" fill="#141414" font-weight="normal" stroke="#141414" stroke-width="0.3">-8</text>
<line x1="707.2" y1="354.5" x2="707.2" y2="359" stroke="#0a0a0a" stroke-width="1.65"/>
<text x="709.2" y="370.5" font-size="12" text-anchor="middle" fill="#141414" font-weight="normal" stroke="#141414" stroke-width="0.3">-7</text>
<line x1="726" y1="354.5" x2="726" y2="359" stroke="#0a0a0a" stroke-width="1.65"/>
<text x="728" y="370.5" font-size="12" text-anchor="middle" fill="#141414" font-weight="normal" stroke="#141414" stroke-width="0.3">-6</text>
<line x1="744.8" y1="354.5" x2="744.8" y2="359" stroke="#0a0a0a" stroke-width="1.65"/>
<text x="746.8" y="370.5" font-size="12" text-anchor="middle" fill="#141414" font-weight="normal" stroke="#141414" stroke-width="0.3">-5</text>
<line x1="599.15" y1="363" x2="604.35" y2="346.2" stroke="#0a0a0a" stroke-width="1.4"/>
<line x1="602.85" y1="363" x2="608.05" y2="346.2" stroke="#0a0a0a" stroke-width="1.4"/>
<text x="649.5" y="388.2" font-size="11.7" text-anchor="middle" fill="#141414" font-weight="normal" stroke="#141414" stroke-width="0.3">log [ligand] M</text>
<path d="M595.15 338.4 L596.4 338.4 L597.65 338.4 L598.89 338.4 L600.14 338.4 L601.39 338.4 L602.63 338.4 L603.88 338.4 L605.13 338.4 L606.38 338.4 L607.62 338.4 L608.87 338.4 L610.12 338.4 L611.36 338.4 L612.61 338.4 L613.86 338.4 L615.11 338.4 L616.35 338.4 L617.6 338.4 L618.85 338.4 L620.09 338.4 L621.34 338.4 L622.59 338.4 L623.83 338.4 L625.08 338.4 L626.33 338.4 L627.58 338.4 L628.82 338.4 L630.07 338.4 L631.32 338.4 L632.56 338.4 L633.81 338.4 L635.06 338.4 L636.31 338.4 L637.55 338.4 L638.8 338.4 L640.05 338.4 L641.29 338.4 L642.54 338.4 L643.79 338.4 L645.03 338.4 L646.28 338.4 L647.53 338.4 L648.78 338.4 L650.02 338.4 L651.27 338.4 L652.52 338.4 L653.76 338.4 L655.01 338.4 L656.26 338.4 L657.51 338.4 L658.75 338.4 L660 338.4 L661.25 338.4 L662.49 338.4 L663.74 338.39 L664.99 338.39 L666.23 338.39 L667.48 338.39 L668.73 338.39 L669.98 338.38 L671.22 338.38 L672.47 338.38 L673.72 338.37 L674.96 338.37 L676.21 338.36 L677.46 338.35 L678.71 338.34 L679.95 338.33 L681.2 338.31 L682.45 338.29 L683.69 338.27 L684.94 338.24 L686.19 338.2 L687.43 338.16 L688.68 338.1 L689.93 338.04 L691.18 337.96 L692.42 337.86 L693.67 337.75 L694.92 337.6 L696.16 337.43 L697.41 337.22 L698.66 336.97 L699.91 336.66 L701.15 336.29 L702.4 335.85 L703.65 335.31 L704.89 334.67 L706.14 333.9 L707.39 332.99 L708.64 331.91 L709.88 330.64 L711.13 329.16 L712.38 327.45 L713.62 325.49 L714.87 323.26 L716.12 320.77 L717.36 318.02 L718.61 315.03 L719.86 311.84 L721.11 308.48 L722.35 305.03 L723.6 301.54 L724.85 298.09 L726.09 294.73 L727.34 291.54 L728.59 288.54 L729.84 285.79 L731.08 283.29 L732.33 281.05 L733.58 279.08 L734.82 277.37 L736.07 275.88 L737.32 274.61 L738.56 273.52 L739.81 272.61 L741.06 271.84 L742.31 271.19 L743.55 270.65 L744.8 270.21" fill="none" stroke="#30e01a" stroke-width="1.6" stroke-linejoin="round" stroke-linecap="round"/>
<path d="M595.15 338.4 L596.09 338.4 L597.02 338.4 L597.95 338.4 L598.89 338.4 L599.82 338.4 L600.75 338.4 L601.69 338.4 L602.62 338.4 L603.56 338.4 L604.49 338.4 L605.42 338.4 L606.36 338.4 L607.29 338.4 L608.22 338.4 L609.16 338.4 L610.09 338.4 L611.03 338.4 L611.96 338.4 L612.89 338.4 L613.83 338.4 L614.76 338.4 L615.69 338.4 L616.63 338.4 L617.56 338.4 L618.5 338.4 L619.43 338.4 L620.36 338.4 L621.3 338.4 L622.23 338.4 L623.16 338.4 L624.1 338.4 L625.03 338.4 L625.97 338.4 L626.9 338.4 L627.83 338.39 L628.77 338.39 L629.7 338.39 L630.63 338.39 L631.57 338.38 L632.5 338.38 L633.44 338.37 L634.37 338.36 L635.3 338.35 L636.24 338.34 L637.17 338.32 L638.1 338.3 L639.04 338.27 L639.97 338.23 L640.9 338.18 L641.84 338.11 L642.77 338.02 L643.71 337.91 L644.64 337.77 L645.57 337.58 L646.51 337.33 L647.44 337.02 L648.37 336.61 L649.31 336.09 L650.24 335.42 L651.18 334.57 L652.11 333.5 L653.04 332.14 L653.98 330.46 L654.91 328.4 L655.84 325.89 L656.78 322.91 L657.71 319.44 L658.65 315.5 L659.58 311.14 L660.51 306.46 L661.45 301.61 L662.38 296.74 L663.31 292.03 L664.25 287.61 L665.18 283.6 L666.12 280.06 L667.05 277.01 L667.98 274.44 L668.92 272.31 L669.85 270.58 L670.78 269.18 L671.72 268.07 L672.65 267.18 L673.59 266.49 L674.52 265.95 L675.45 265.53 L676.39 265.2 L677.32 264.95 L678.25 264.75 L679.19 264.6 L680.12 264.48 L681.06 264.39 L681.99 264.32 L682.92 264.27 L683.86 264.23 L684.79 264.2 L685.72 264.17 L686.66 264.16 L687.59 264.14 L688.53 264.13 L689.46 264.12 L690.39 264.11 L691.33 264.11 L692.26 264.11 L693.19 264.1 L694.13 264.1 L695.06 264.1 L696 264.1 L696.93 264.1 L697.86 264.1 L698.8 264.1 L699.73 264.09 L700.66 264.09 L701.6 264.09 L702.53 264.09 L703.47 264.09 L704.4 264.09 L705.33 264.09 L706.27 264.09 L707.2 264.09" fill="none" stroke="#000" stroke-width="1.8" stroke-linejoin="round" stroke-linecap="round"/>
<line x1="726" y1="294.14" x2="726" y2="286.6" stroke="#22b022" stroke-width="1.3"/>
<line x1="722.5" y1="286.6" x2="729.5" y2="286.6" stroke="#22b022" stroke-width="1.3"/>
<line x1="726" y1="294.14" x2="726" y2="301.3" stroke="#22b022" stroke-width="1.3"/>
<line x1="722.5" y1="301.3" x2="729.5" y2="301.3" stroke="#22b022" stroke-width="1.3"/>
<line x1="744.8" y1="270.09" x2="744.8" y2="259.4" stroke="#22b022" stroke-width="1.3"/>
<line x1="741.3" y1="259.4" x2="748.3" y2="259.4" stroke="#22b022" stroke-width="1.3"/>
<line x1="744.8" y1="270.09" x2="744.8" y2="281.3" stroke="#22b022" stroke-width="1.3"/>
<line x1="741.3" y1="281.3" x2="748.3" y2="281.3" stroke="#22b022" stroke-width="1.3"/>
<circle cx="595.15" cy="338.4" r="2.9" fill="#28b828"/>
<circle cx="650.8" cy="338" r="2.9" fill="#28b828"/>
<circle cx="669.6" cy="335.2" r="2.9" fill="#28b828"/>
<circle cx="707.2" cy="332.73" r="2.9" fill="#28b828"/>
<circle cx="726" cy="294.14" r="2.9" fill="#28b828"/>
<circle cx="744.8" cy="270.09" r="2.9" fill="#28b828"/>
<rect x="685.4" y="331.56" width="6" height="6" fill="#28b828"/>
<line x1="650.8" y1="331.93" x2="650.8" y2="328.7" stroke="#000" stroke-width="1.3"/>
<line x1="647.3" y1="328.7" x2="654.3" y2="328.7" stroke="#000" stroke-width="1.3"/>
<line x1="650.8" y1="331.93" x2="650.8" y2="335.4" stroke="#000" stroke-width="1.3"/>
<line x1="647.3" y1="335.4" x2="654.3" y2="335.4" stroke="#000" stroke-width="1.3"/>
<line x1="669.6" y1="273.28" x2="669.6" y2="264" stroke="#000" stroke-width="1.3"/>
<line x1="666.1" y1="264" x2="673.1" y2="264" stroke="#000" stroke-width="1.3"/>
<line x1="669.6" y1="273.28" x2="669.6" y2="281.8" stroke="#000" stroke-width="1.3"/>
<line x1="666.1" y1="281.8" x2="673.1" y2="281.8" stroke="#000" stroke-width="1.3"/>
<line x1="688.4" y1="270.56" x2="688.4" y2="260" stroke="#000" stroke-width="1.3"/>
<line x1="684.9" y1="260" x2="691.9" y2="260" stroke="#000" stroke-width="1.3"/>
<line x1="688.4" y1="270.56" x2="688.4" y2="280.8" stroke="#000" stroke-width="1.3"/>
<line x1="684.9" y1="280.8" x2="691.9" y2="280.8" stroke="#000" stroke-width="1.3"/>
<line x1="707.2" y1="259.3" x2="707.2" y2="250.7" stroke="#000" stroke-width="1.3"/>
<line x1="703.7" y1="250.7" x2="710.7" y2="250.7" stroke="#000" stroke-width="1.3"/>
<line x1="707.2" y1="259.3" x2="707.2" y2="268" stroke="#000" stroke-width="1.3"/>
<line x1="703.7" y1="268" x2="710.7" y2="268" stroke="#000" stroke-width="1.3"/>
<path d="M595.15 335.2L598.35 338.4L595.15 341.6L591.95 338.4Z" fill="#000"/>
<path d="M613.2 338.4L616.4 341.6L613.2 344.8L610 341.6Z" fill="#000"/>
<path d="M632 335.68L635.2 338.88L632 342.08L628.8 338.88Z" fill="#000"/>
<path d="M650.8 328.73L654 331.93L650.8 335.13L647.6 331.93Z" fill="#000"/>
<path d="M669.6 270.08L672.8 273.28L669.6 276.48L666.4 273.28Z" fill="#000"/>
<path d="M688.4 267.36L691.6 270.56L688.4 273.76L685.2 270.56Z" fill="#000"/>
<path d="M707.2 256.1L710.4 259.3L707.2 262.5L704 259.3Z" fill="#000"/>
<line x1="591.1" y1="252.5" x2="603.3" y2="252.5" stroke="#000" stroke-width="1.9"/>
<path d="M597.2 249L600.7 252.5L597.2 256L593.7 252.5Z" fill="#000"/>
<text x="610.2" y="256.4" font-size="11.5" text-anchor="start" fill="#141414" font-weight="normal" stroke="#141414" stroke-width="0.3">H2 relaxin</text>
<line x1="591.1" y1="265.5" x2="603.3" y2="265.5" stroke="#30e01a" stroke-width="1.9"/>
<circle cx="597.2" cy="265.5" r="3.4" fill="#22ad22"/>
<text x="610.2" y="269.1" font-size="11.5" text-anchor="start" fill="#22bb22" font-weight="normal" stroke="#22bb22" stroke-width="0.3">B7-33</text>
</svg>
</body></html>
